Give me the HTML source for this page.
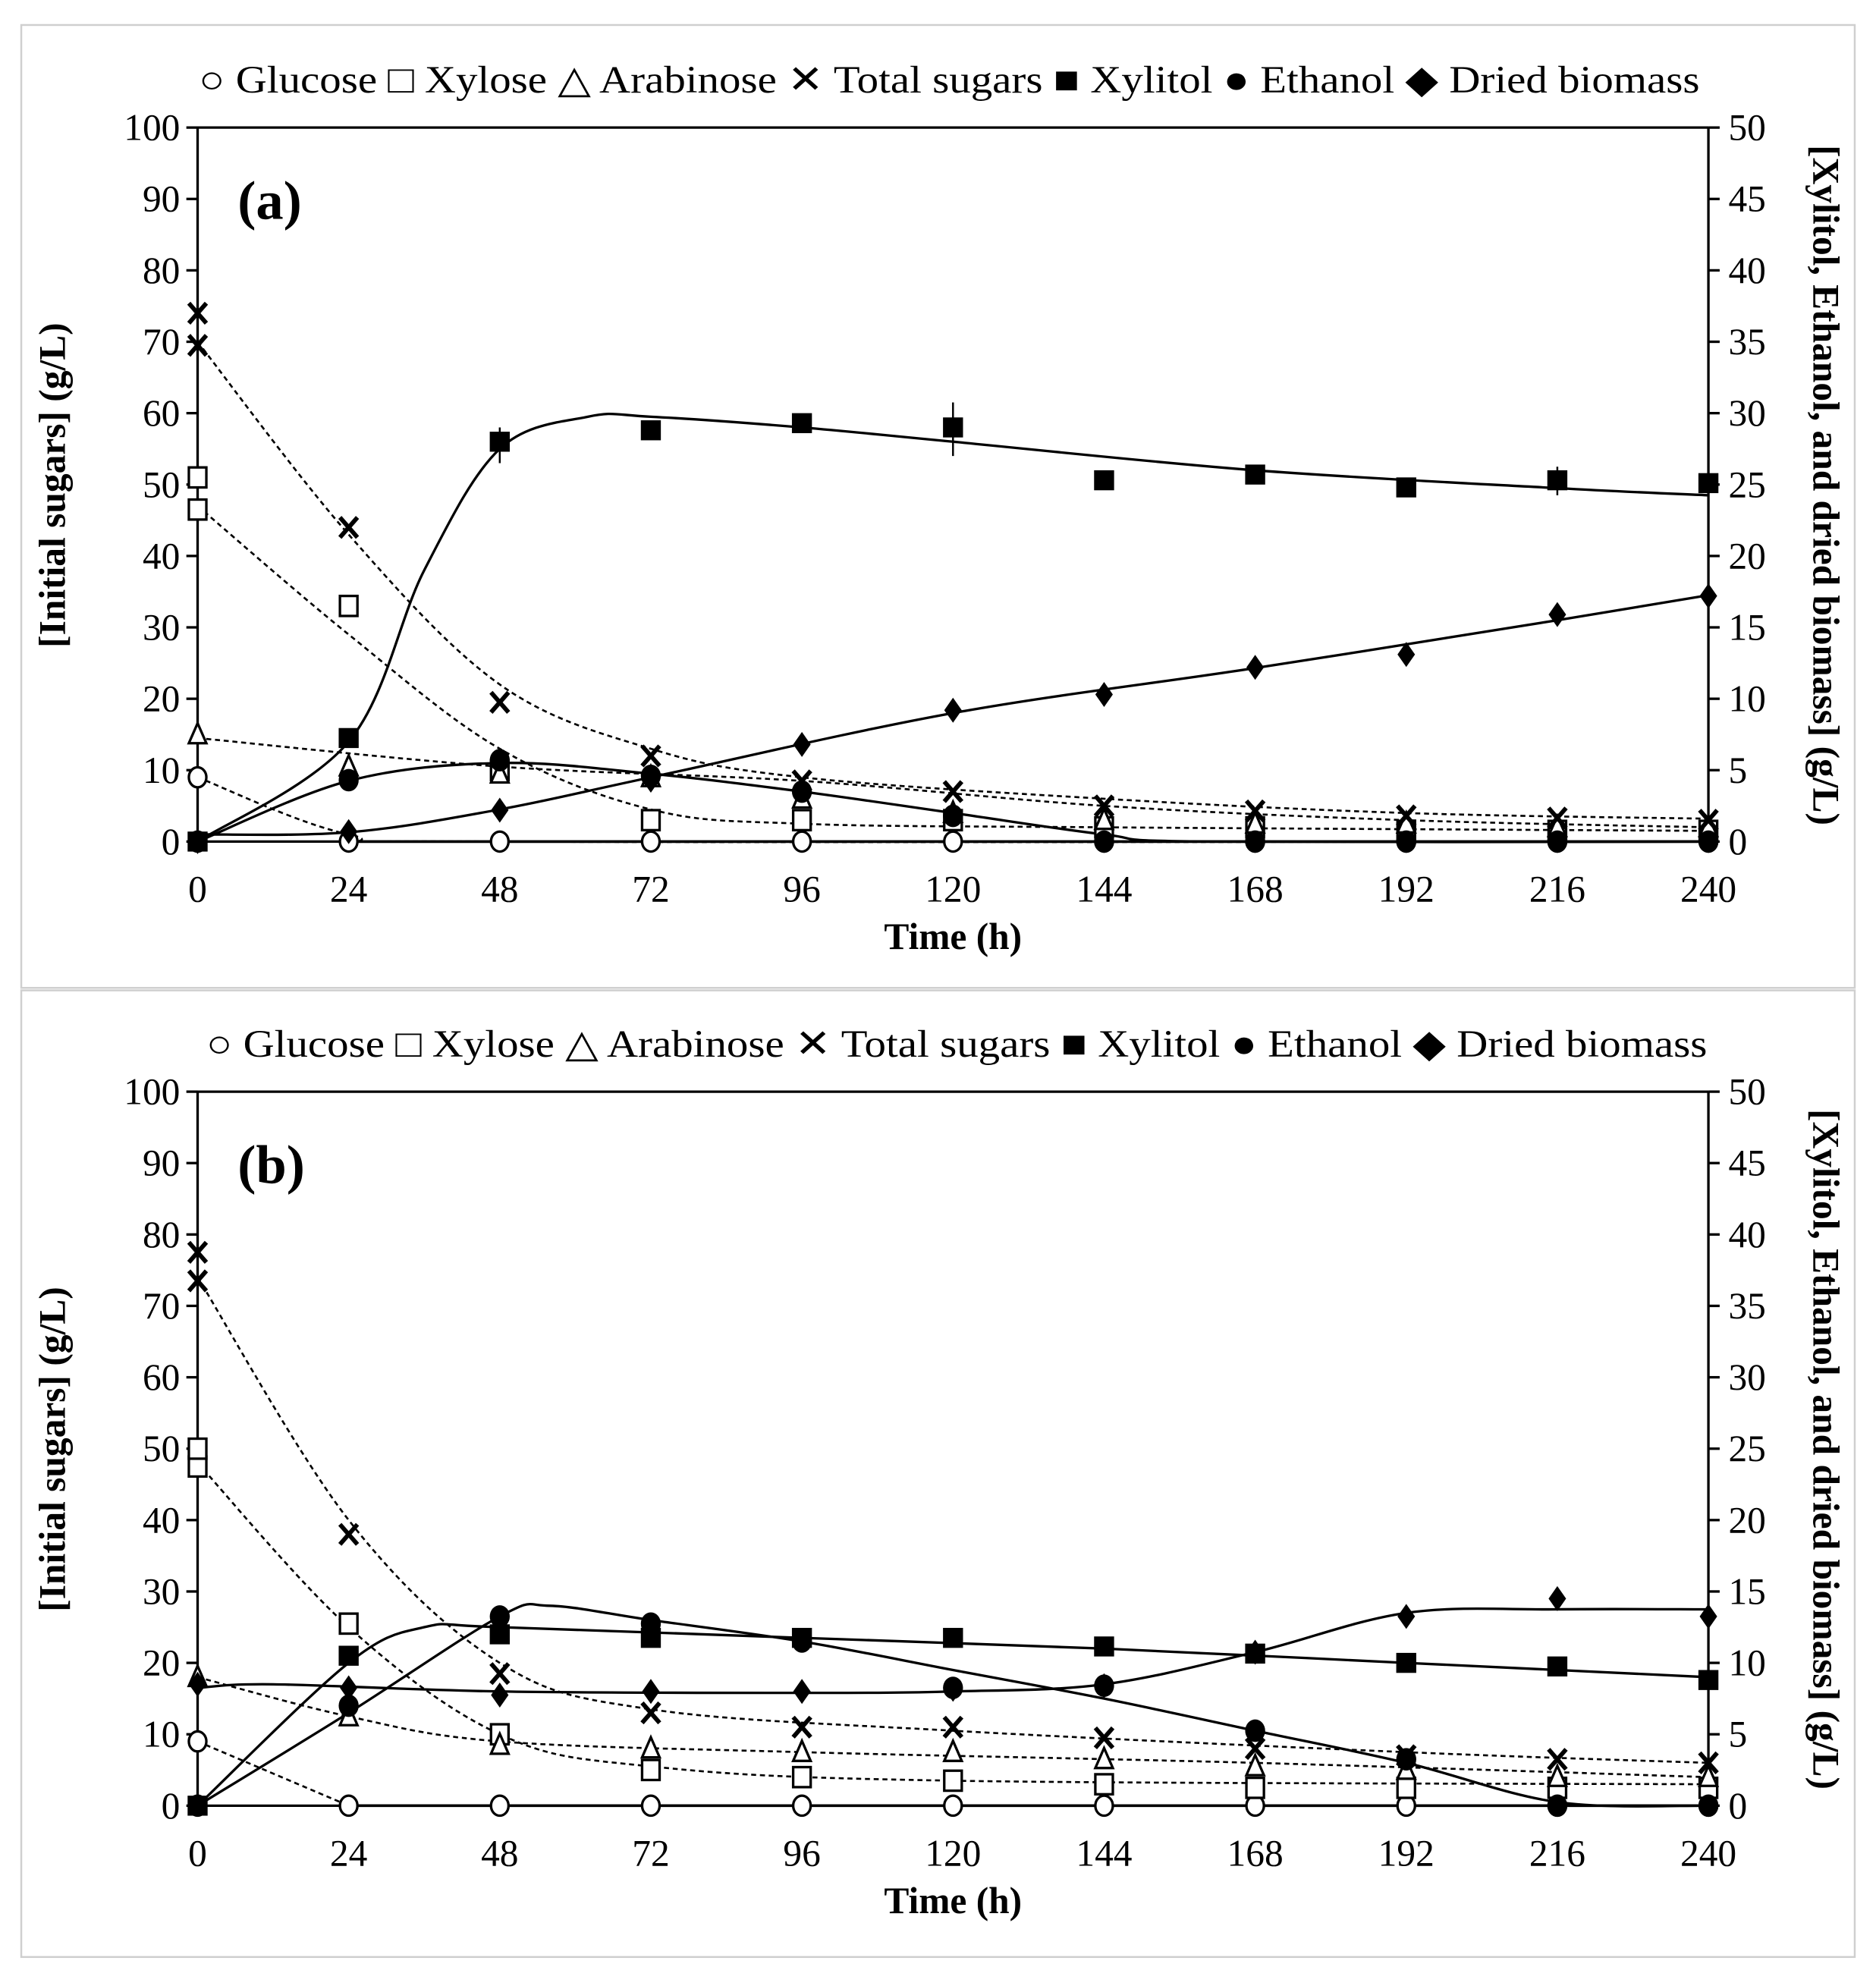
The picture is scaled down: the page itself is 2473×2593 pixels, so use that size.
<!DOCTYPE html>
<html><head><meta charset="utf-8"><style>
html,body{margin:0;padding:0;background:#fff}
svg{display:block}
text{font-family:"Liberation Serif",serif;fill:#000}
</style></head><body>
<svg id="s" xmlns="http://www.w3.org/2000/svg" width="2473" height="2593" viewBox="0 0 1500 1573" preserveAspectRatio="none">
<rect x="0" y="0" width="1500" height="1573" fill="#fff"/>
<rect x="17" y="20" width="1466" height="770" fill="none" stroke="#cfcfcf" stroke-width="1.5"/>
<rect x="17" y="792" width="1466" height="773" fill="none" stroke="#cfcfcf" stroke-width="1.5"/>
<g font-size="31">
<text x="759" y="74" text-anchor="middle" textLength="1200" lengthAdjust="spacingAndGlyphs">○ Glucose □ Xylose △ Arabinose ✕ Total sugars ■ Xylitol ● Ethanol ◆ Dried biomass</text>
<text x="765" y="845" text-anchor="middle" textLength="1200" lengthAdjust="spacingAndGlyphs">○ Glucose □ Xylose △ Arabinose ✕ Total sugars ■ Xylitol ● Ethanol ◆ Dried biomass</text>
</g>
<text x="190" y="175" font-size="44" font-weight="bold">(a)</text>
<text x="190" y="946" font-size="44" font-weight="bold">(b)</text>
<text x="762" y="759" font-size="30" font-weight="bold" text-anchor="middle">Time (h)</text>
<text x="762" y="1530" font-size="30" font-weight="bold" text-anchor="middle">Time (h)</text>
<text transform="translate(52,388) rotate(-90)" font-size="30" font-weight="bold" text-anchor="middle">[Initial sugars] (g/L)</text>
<text transform="translate(52,1159) rotate(-90)" font-size="30" font-weight="bold" text-anchor="middle">[Initial sugars] (g/L)</text>
<text transform="translate(1450,388) rotate(90)" font-size="30" font-weight="bold" text-anchor="middle">[Xylitol, Ethanol, and dried biomass] (g/L)</text>
<text transform="translate(1450,1159) rotate(90)" font-size="30" font-weight="bold" text-anchor="middle">[Xylitol, Ethanol, and dried biomass] (g/L)</text>
<g id="ticks" font-size="30"></g>
<g id="plot"></g>
</svg>
<script>
var NS="http://www.w3.org/2000/svg";
function el(t,a,p){var e=document.createElementNS(NS,t);for(var k in a)e.setAttribute(k,a[k]);(p||document.getElementById('plot')).appendChild(e);return e;}
var X0=158,X1=1366;
function px(t){return X0+(X1-X0)*t/240;}
function mk(y0,y100){return function(v){return y0+(y100-y0)*v/100;};}
var panels=[{y0:673,y100:102},{y0:1444,y100:873}];
var tk=document.getElementById('ticks');
panels.forEach(function(P){
 var py=mk(P.y0,P.y100);
 el('line',{x1:X0,y1:P.y100,x2:X1,y2:P.y100,stroke:'#000','stroke-width':2});
 el('line',{x1:X0,y1:P.y0,x2:X0,y2:P.y100,stroke:'#000','stroke-width':2});
 el('line',{x1:X1,y1:P.y0,x2:X1,y2:P.y100,stroke:'#000','stroke-width':2});
 el('line',{x1:X0,y1:P.y0,x2:X1,y2:P.y0,stroke:'#000','stroke-width':2});
 for(var v=0;v<=100;v+=10){var y=py(v);
  el('line',{x1:X0-9,y1:y,x2:X0,y2:y,stroke:'#000','stroke-width':2});
  el('line',{x1:X1,y1:y,x2:X1+9,y2:y,stroke:'#000','stroke-width':2});
  var t=el('text',{x:X0-14,y:y+10,'text-anchor':'end'},tk);t.textContent=v;
  var t2=el('text',{x:X1+16,y:y+10},tk);t2.textContent=v/2;}
 for(var h=0;h<=240;h+=24){var t3=el('text',{x:px(h),y:P.y0+48,'text-anchor':'middle'},tk);t3.textContent=h;}
});
function curve(pts,py,dash){
 var P=pts.map(function(p){return [px(p[0]),py(p[1])];});
 var d='M'+P[0][0]+','+P[0][1];
 for(var i=0;i<P.length-1;i++){var p0=P[i-1]||P[i],p1=P[i],p2=P[i+1],p3=P[i+2]||p2;
  d+=' C'+(p1[0]+(p2[0]-p0[0])/6)+','+(p1[1]+(p2[1]-p0[1])/6)+' '+(p2[0]-(p3[0]-p1[0])/6)+','+(p2[1]-(p3[1]-p1[1])/6)+' '+p2[0]+','+p2[1];}
 el('path',{d:d,fill:'none',stroke:'#000','stroke-width':dash?1.6:2,'stroke-dasharray':dash?'4,3':'none'});
}
function marker(type,t,v,py){var x=px(t),y=py(v);
 if(type=='o')el('ellipse',{cx:x,cy:y,rx:7,ry:8,fill:'#fff',stroke:'#000','stroke-width':2});
 else if(type=='s')el('rect',{x:x-7,y:y-8,width:14,height:16,fill:'#fff',stroke:'#000','stroke-width':2});
 else if(type=='t')el('polygon',{points:(x)+','+(y-9)+' '+(x-7)+','+(y+7)+' '+(x+7)+','+(y+7),fill:'#fff',stroke:'#000','stroke-width':2});
 else if(type=='x'){el('line',{x1:x-7,y1:y-8,x2:x+7,y2:y+8,stroke:'#000','stroke-width':3.5});el('line',{x1:x+7,y1:y-8,x2:x-7,y2:y+8,stroke:'#000','stroke-width':3.5});}
 else if(type=='S')el('rect',{x:x-8,y:y-8,width:16,height:16,fill:'#000'});
 else if(type=='O')el('ellipse',{cx:x,cy:y,rx:8,ry:9,fill:'#000'});
 else if(type=='D')el('polygon',{points:x+','+(y-10)+' '+(x+7)+','+y+' '+x+','+(y+10)+' '+(x-7)+','+y,fill:'#000'});
}
var T=[0,24,48,72,96,120,144,168,192,216,240];
function series(type,vals,py,extra){vals.forEach(function(v,i){marker(type,T[i],v,py);});(extra||[]).forEach(function(e){marker(type,e[0],e[1],py);});}
(function(){var py=mk(673,102);
 curve([[0,9],[24,1],[48,0],[240,0]],py,true);
 el('line',{x1:px(24),y1:py(0),x2:px(240),y2:py(0),stroke:'#000','stroke-width':2.2});
 curve([[0,47],[24,29],[48,13],[72,4.5],[96,2.5],[144,2],[240,1.5]],py,true);
 curve([[0,14.5],[48,10.5],[96,8.5],[144,5],[192,3],[240,2]],py,true);
 curve([[0,70],[24,43],[48,22],[72,13],[96,9],[144,6],[192,4],[240,3.2]],py,true);
 curve([[0,0],[24,14],[36,38],[48,55],[62,59.5],[72,59.5],[96,58],[120,56],[168,52],[216,49.5],[240,48.5]],py,false);
 curve([[0,0],[24,8.5],[48,11],[72,9.5],[96,7],[120,4],[144,1],[160,0],[240,0]],py,false);
 curve([[0,1],[24,1.3],[48,4.5],[72,9],[120,18],[168,24.3],[216,31],[240,34.5]],py,false);
 el('line',{x1:px(48),y1:py(53),x2:px(48),y2:py(58),stroke:'#000','stroke-width':1.5});
 el('line',{x1:px(120),y1:py(54),x2:px(120),y2:py(61.5),stroke:'#000','stroke-width':1.5});
 el('line',{x1:px(216),y1:py(48.5),x2:px(216),y2:py(52.5),stroke:'#000','stroke-width':1.5});
 series('o',[9,0,0,0,0,0,0,0,0,0,0],py);
 series('s',[46.5,33,10,3,3,3,2,2,1.5,1.5,1.5],py,[[0,51]]);
 series('t',[15,10.5,9.5,9,6,4,3,2.5,2.5,2,2],py);
 series('x',[69.5,44,19.5,12,8.5,7,5,4.3,3.6,3.3,3],py,[[0,74]]);
 series('S',[0,14.5,56,57.6,58.6,58,50.6,51.4,49.6,50.6,50.2],py);
 series('O',[0,8.6,11.4,9.2,7,3.6,0,0,0,0,0],py);
 series('D',[0,1.4,4.4,8.6,13.6,18.4,20.6,24.4,26.2,31.8,34.4],py);
})();
(function(){var py=mk(1444,873);
 curve([[0,9],[24,0]],py,true);
 el('line',{x1:px(24),y1:py(0),x2:px(240),y2:py(0),stroke:'#000','stroke-width':2.2});
 curve([[0,48],[24,25],[48,10],[72,5.5],[120,3.5],[240,3]],py,true);
 curve([[0,18],[24,12.5],[48,9],[96,7.5],[168,6],[240,4]],py,true);
 curve([[0,74],[24,40],[48,20],[72,13.5],[120,10.5],[192,7.5],[240,6]],py,true);
 curve([[0,0],[24,20],[36,25],[48,25],[96,23.5],[144,22],[192,20],[240,18]],py,false);
 curve([[0,0],[24,13],[48,26.5],[56,28],[72,26],[96,23],[120,19],[144,15],[168,10.5],[192,6],[216,0.5],[240,0]],py,false);
 curve([[0,16.5],[12,17],[48,16],[96,15.8],[120,16],[144,17],[168,21.5],[192,27],[216,27.5],[240,27.5]],py,false);
 series('o',[9,0,0,0,0,0,0,0,0,0,0],py);
 series('s',[47.5,25.5,10,5,4,3.5,3,2.5,2.5,2.5,2.5],py,[[0,50]]);
 series('t',[18,12.5,8.5,8,7.5,7.5,6.5,5.5,5,4,4],py);
 series('x',[73.5,38,18.5,13,11,11,9.5,8,7,6.5,6],py,[[0,77.5]]);
 series('S',[0,21,24,23.5,23.5,23.5,22.3,21.3,20,19.5,17.6],py);
 series('O',[0,14,26.5,25.5,23,16.5,16.8,10.5,6.5,0,0],py);
 series('D',[17,16.5,15.5,16,16,16.3,16.8,21.5,26.5,29,26.5],py);
})();
</script>
</body></html>
